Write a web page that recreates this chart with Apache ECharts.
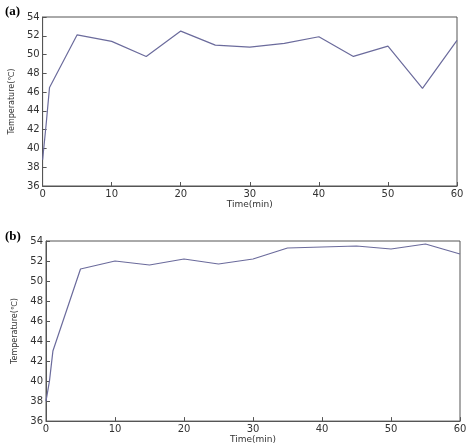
<!DOCTYPE html>
<html style="height: 100%">
<head><meta charset="utf-8"></head>
<body style="height: 100%; margin: 0; background: #fff">
<div id="container" style="width: 474px; height: 445px"></div>
<script src="https://cdn.jsdelivr.net/npm/echarts@6/dist/echarts.min.js"></script>
<script>
var timeA = [0, 0.5, 1, 5, 10, 15, 20, 25, 30, 35, 40, 45, 50, 55, 60];
var tempA = [38.8, 42.5, 46.5, 52.1, 51.4, 49.8, 52.5, 51.0, 50.8, 51.2, 51.9, 49.8, 50.9, 46.4, 51.5];
var timeB = [0, 0.5, 1, 5, 10, 15, 20, 25, 30, 35, 40, 45, 50, 55, 60];
var tempB = [38.0, 40.0, 43.0, 51.2, 52.0, 51.6, 52.2, 51.7, 52.2, 53.3, 53.4, 53.5, 53.2, 53.7, 52.7];

function pairs(x, y) { return x.map(function (v, i) { return [v, y[i]]; }); }

var lab = { color: '#333', fontSize: 10, fontFamily: 'DejaVu Sans' };
function xAx(i) {
    return {
        gridIndex: i, type: 'value', min: 0, max: 60, interval: 10,
        name: 'Time(min)', nameLocation: 'middle', nameGap: 12,
        nameTextStyle: { color: '#333', fontSize: 9, fontFamily: 'DejaVu Sans' },
        axisLine: { lineStyle: { color: '#555' } },
        axisTick: { inside: true, length: 4, lineStyle: { color: '#555' } },
        axisLabel: Object.assign({ margin: 3 }, lab),
        splitLine: { show: false }
    };
}
function yAx(i) {
    return {
        gridIndex: i, type: 'value', min: 36, max: 54, interval: 2,
        name: 'Temperature(\u2103)', nameLocation: 'middle', nameGap: 24,
        nameTextStyle: { color: '#333', fontSize: 8, fontFamily: 'DejaVu Sans' },
        axisLine: { lineStyle: { color: '#555' } },
        axisTick: { inside: true, length: 4, lineStyle: { color: '#555' } },
        axisLabel: Object.assign({ margin: 3 }, lab),
        splitLine: { show: false }
    };
}

var chart = echarts.init(document.getElementById('container'));
chart.setOption({
    backgroundColor: '#fff',
    animation: false,
    title: [
        { text: '(a)', left: 0, top: 0, textStyle: { fontSize: 13, fontWeight: 'bold', fontFamily: 'Liberation Serif', color: '#000' } },
        { text: '(b)', left: 0, top: 225, textStyle: { fontSize: 13, fontWeight: 'bold', fontFamily: 'Liberation Serif', color: '#000' } }
    ],
    grid: [
        { left: 40, top: 17, width: 417, height: 169, show: true, borderColor: '#555', borderWidth: 1 },
        { left: 46, top: 241, width: 414, height: 181, show: true, borderColor: '#555', borderWidth: 1 }
    ],
    xAxis: [xAx(0), xAx(1)],
    yAxis: [yAx(0), yAx(1)],
    series: [
        { type: 'line', xAxisIndex: 0, yAxisIndex: 0, data: pairs(timeA, tempA), showSymbol: false, lineStyle: { color: '#6b6b9c', width: 1.2 } },
        { type: 'line', xAxisIndex: 1, yAxisIndex: 1, data: pairs(timeB, tempB), showSymbol: false, lineStyle: { color: '#6b6b9c', width: 1.2 } }
    ]
});
</script>
</body>
</html>
